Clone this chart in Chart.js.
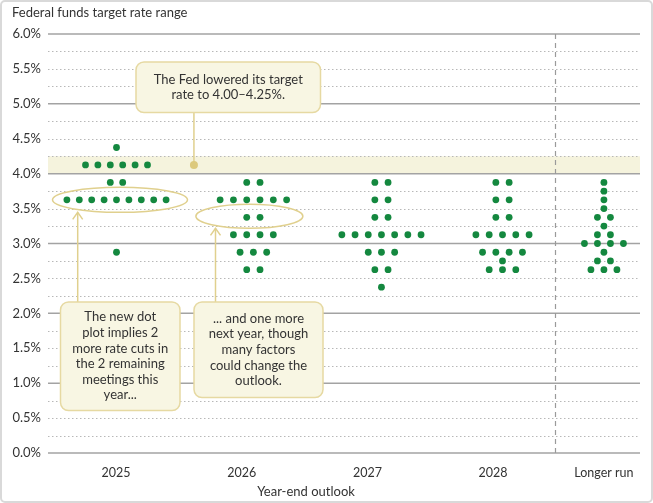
<!DOCTYPE html>
<html><head><meta charset="utf-8">
<script src="https://cdn.jsdelivr.net/npm/chart.js@4"></script>
<style>html,body{margin:0;padding:0;background:#fff}canvas{display:block}</style>
</head><body>
<canvas id="c" width="653" height="503"></canvas>
<script>
// ---------- data ----------
const categories = ['2025', '2026', '2027', '2028', 'Longer run'];
const dots2025 = [4.375, 4.125, 4.125, 4.125, 4.125, 4.125, 4.125, 3.875, 3.875,
  3.625, 3.625, 3.625, 3.625, 3.625, 3.625, 3.625, 3.625, 3.625, 2.875];
const dots2026 = [3.875, 3.875, 3.625, 3.625, 3.625, 3.625, 3.625, 3.625, 3.375, 3.375,
  3.125, 3.125, 3.125, 3.125, 2.875, 2.875, 2.875, 2.625, 2.625];
const dots2027 = [3.875, 3.875, 3.625, 3.625, 3.375, 3.375, 3.125, 3.125, 3.125, 3.125,
  3.125, 3.125, 3.125, 2.875, 2.875, 2.875, 2.625, 2.625, 2.375];
const dots2028 = [3.875, 3.875, 3.625, 3.625, 3.375, 3.375, 3.125, 3.125, 3.125, 3.125,
  3.125, 2.875, 2.875, 2.875, 2.875, 2.75, 2.625, 2.625, 2.625];
const dotsLonger = [3.875, 3.75, 3.625, 3.5, 3.375, 3.375, 3.25, 3.125, 3.125, 3.0,
  3.0, 3.0, 3.0, 2.875, 2.75, 2.75, 2.625, 2.625, 2.625];
const targetRange = [4.00, 4.25];
const xAxisTitle = 'Year-end outlook';
const chartTitle = 'Federal funds target rate range';
const callout1 = ['The Fed lowered its target', 'rate to 4.00\u20134.25%.'];
const callout2 = ['The new dot', 'plot implies 2', 'more rate cuts in', 'the 2 remaining', 'meetings this', 'year...'];
const callout3 = ['... and one more', 'next year, though', 'many factors', 'could change the', 'outlook.'];

// ---------- layout ----------
const dotSets = [dots2025, dots2026, dots2027, dots2028, dotsLonger];
const labelPos = [0, 1, 2, 3, 3.882];
const clusterPos = [0.004, 1.093, 2.112, 3.075, 3.882];
const dotGapPx = [12.4, 13.3, 13.2, 13.3, 13];
const PX_PER_UNIT = 125.7;
const GREEN = '#14883f';
const GOLD = '#e0d08e';
const FONT = 'Lato, "Open Sans", sans-serif';

function layoutDots(values, center, gap) {
  const rows = new Map();
  values.forEach(v => rows.set(v, (rows.get(v) || 0) + 1));
  const pts = [];
  rows.forEach((n, v) => {
    for (let i = 0; i < n; i++) pts.push({x: center + (i - (n - 1) / 2) * gap, y: v});
  });
  return pts;
}

function rr(c, x, y, w, h, r) {
  c.beginPath();
  c.moveTo(x + r, y); c.lineTo(x + w - r, y); c.arcTo(x + w, y, x + w, y + r, r);
  c.lineTo(x + w, y + h - r); c.arcTo(x + w, y + h, x + w - r, y + h, r);
  c.lineTo(x + r, y + h); c.arcTo(x, y + h, x, y + h - r, r);
  c.lineTo(x, y + r); c.arcTo(x, y, x + r, y, r); c.closePath();
}

function box(c, x, y, w, h, lines) {
  c.save();
  rr(c, x, y, w, h, 8);
  c.fillStyle = '#f8f6e3'; c.fill();
  c.lineWidth = 1.5; c.strokeStyle = '#e6d9a2'; c.stroke();
  c.fillStyle = '#333'; c.font = '13px ' + FONT; c.textAlign = 'center'; c.textBaseline = 'middle';
  const lh = 15.6, cy = y + h / 2;
  lines.forEach((t, i) => c.fillText(t, x + w / 2, cy + (i - (lines.length - 1) / 2) * lh));
  c.restore();
}

function arrow(c, x, y0, y1) {
  c.beginPath(); c.moveTo(x, y0); c.lineTo(x, y1); c.stroke();
  c.beginPath(); c.moveTo(x - 5, y1 + 7); c.lineTo(x, y1); c.lineTo(x + 5, y1 + 7); c.stroke();
}

const deco = {
  id: 'deco',
  beforeDraw(chart) {
    const c = chart.ctx;
    c.save();
    c.strokeStyle = '#d9d9d9'; c.lineWidth = 2;
    rr(c, 1, 1, 651, 501, 4); c.stroke();
    c.fillStyle = '#333'; c.font = '13px ' + FONT; c.textBaseline = 'middle';
    c.fillText(chartTitle, 12, 13);
    c.textAlign = 'center';
    c.fillText(xAxisTitle, 306, 492);
    c.restore();
  },
  beforeDatasetsDraw(chart) {
    const {ctx: c, chartArea: a, scales: {x, y}} = chart;
    c.save();
    // target band
    const yb1 = y.getPixelForValue(targetRange[1]), yb0 = y.getPixelForValue(targetRange[0]);
    c.fillStyle = '#f5f3dd';
    c.fillRect(a.left, yb1, a.right - a.left, yb0 - yb1);
    // minor dotted grid
    c.strokeStyle = '#b8b8b8'; c.lineWidth = 1; c.setLineDash([1.5, 2.5]);
    for (let k = 0; k <= 24; k++) {
      if (k % 4 === 0) continue;
      const py = Math.round(y.getPixelForValue(k * 0.25)) + 0.5;
      c.beginPath(); c.moveTo(a.left, py); c.lineTo(a.right, py); c.stroke();
    }
    // major solid grid
    c.setLineDash([]); c.strokeStyle = '#a3a3a3'; c.lineWidth = 1.5;
    for (let k = 0; k <= 6; k++) {
      const py = y.getPixelForValue(k);
      c.beginPath(); c.moveTo(a.left, py); c.lineTo(a.right, py); c.stroke();
    }
    // separator dashed
    const sx = Math.round(x.getPixelForValue(3.492)) + 0.5;
    c.strokeStyle = '#9a9a9a'; c.lineWidth = 1.2; c.setLineDash([5, 4]);
    c.beginPath(); c.moveTo(sx, a.top); c.lineTo(sx, a.bottom); c.stroke();
    c.setLineDash([]);
    // callout leader lines + arrows
    c.strokeStyle = GOLD; c.lineWidth = 1.5;
    const e1x = x.getPixelForValue(clusterPos[0]) + 3.5, e1y = y.getPixelForValue(3.625), e1rx = 67.5, e1ry = 12.5;
    const e2x = x.getPixelForValue(clusterPos[1]) - 4, e2y = y.getPixelForValue(3.375) - 1, e2rx = 53.5, e2ry = 12;
    c.beginPath(); c.ellipse(e1x, e1y, e1rx, e1ry, 0, 0, Math.PI * 2); c.stroke();
    c.beginPath(); c.ellipse(e2x, e2y, e2rx, e2ry, 0, 0, Math.PI * 2); c.stroke();
    arrow(c, 77.7, 302, e1y + e1ry);
    arrow(c, 215.5, 302, e2y + e2ry);
    const dx = x.getPixelForValue(0.62), dy = y.getPixelForValue(4.125);
    c.beginPath(); c.moveTo(dx, 112); c.lineTo(dx, dy); c.stroke();
    c.restore();
  },
  afterDatasetsDraw(chart) {
    const {ctx: c, scales: {x, y}} = chart;
    c.save();
    const dx = x.getPixelForValue(0.62), dy = y.getPixelForValue(4.125);
    c.fillStyle = '#dcc97d';
    c.beginPath(); c.arc(dx, dy, 4, 0, Math.PI * 2); c.fill();
    c.restore();
    box(c, 136, 62, 184.5, 50.5, callout1);
    box(c, 60.5, 302, 119.5, 108.5, callout2);
    box(c, 194, 302, 129, 95.5, callout3);
  }
};

new Chart(document.getElementById('c'), {
  type: 'scatter',
  data: {
    datasets: categories.map((cat, i) => ({
      label: cat,
      data: layoutDots(dotSets[i], clusterPos[i], dotGapPx[i] / PX_PER_UNIT),
      pointRadius: 3.4, pointHoverRadius: 3.4, borderWidth: 0,
      backgroundColor: GREEN, pointBackgroundColor: GREEN
    }))
  },
  options: {
    responsive: false, animation: false, events: [],
    layout: {padding: {left: 0, right: 13, top: 34, bottom: 2}},
    plugins: {legend: {display: false}, tooltip: {enabled: false}, title: {display: false}},
    scales: {
      x: {
        type: 'linear', min: -0.541, max: 4.169,
        grid: {display: false, drawTicks: false}, border: {display: false},
        afterBuildTicks: s => { s.ticks = labelPos.map(v => ({value: v})); },
        ticks: {autoSkip: false, maxRotation: 0, padding: 12, color: '#333',
          font: {family: FONT, size: 12.5}, callback: (v, i) => categories[i]},
        title: {display: false},
        afterFit: s => { s.height = 48; }
      },
      y: {
        min: 0, max: 6,
        ticks: {stepSize: 0.5, padding: 7, color: '#333', font: {family: FONT, size: 13},
          callback: v => v.toFixed(1) + '%'},
        grid: {display: false, drawTicks: false}, border: {display: false},
        afterFit: s => { s.width = 48; }
      }
    }
  },
  plugins: [deco]
});
</script>
</body></html>
